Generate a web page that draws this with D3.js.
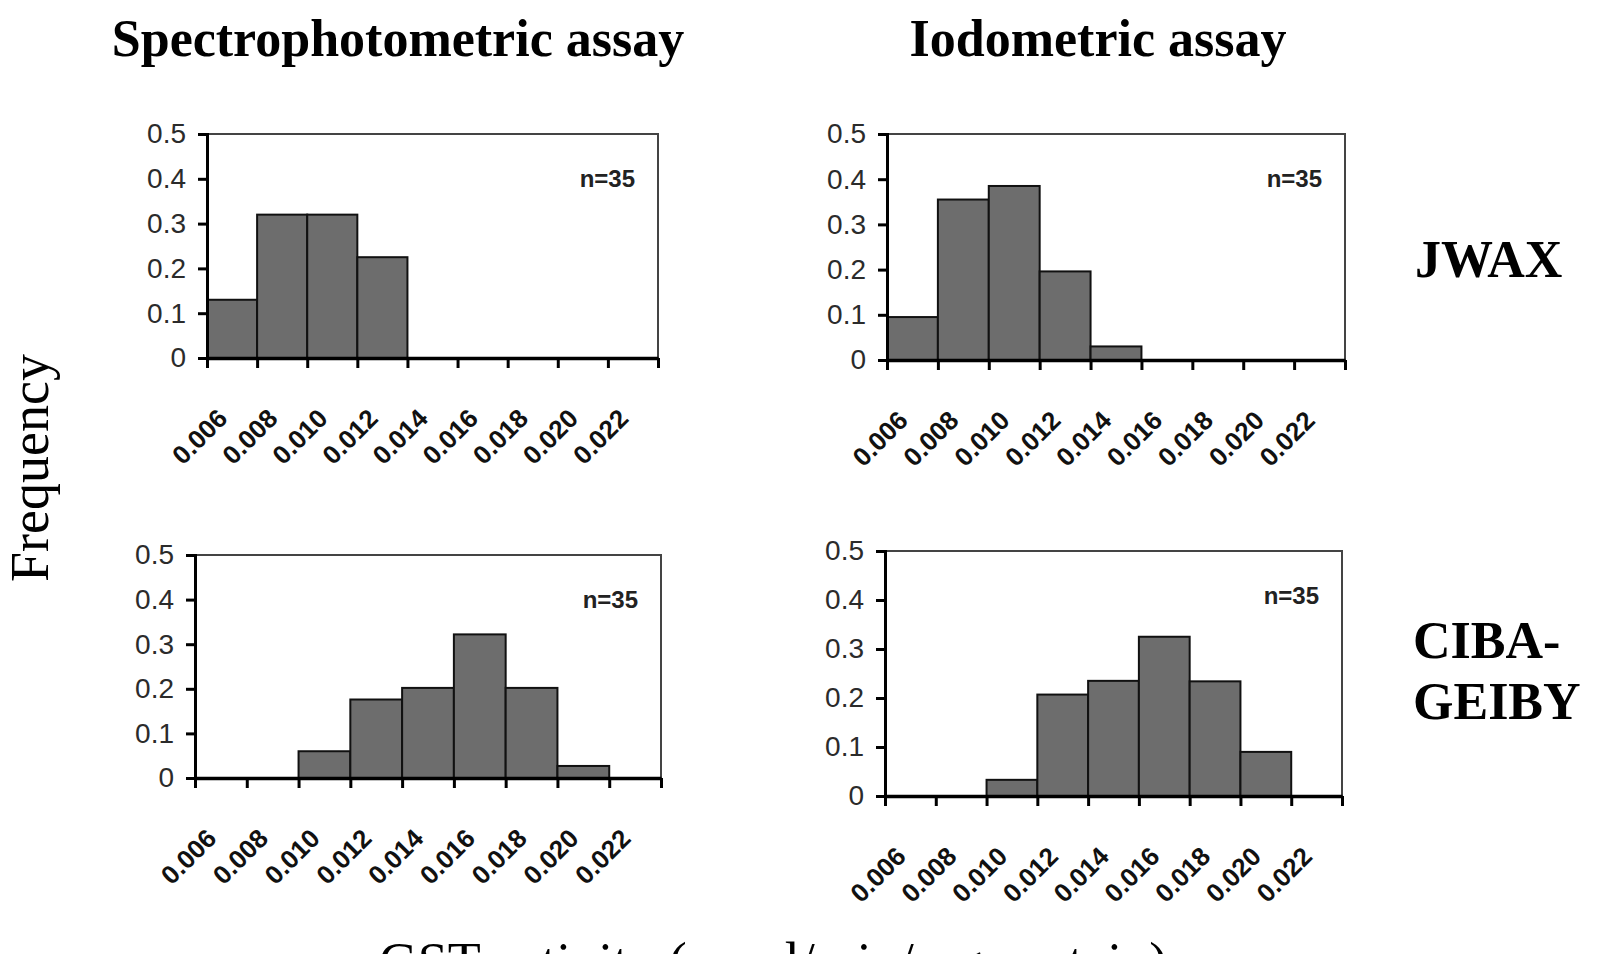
<!DOCTYPE html>
<html>
<head>
<meta charset="utf-8">
<script src="https://cdn.jsdelivr.net/npm/d3@7"></script>
<style>
  body { margin: 0; background: #fff; }
  svg { display: block; }
</style>
</head>
<body>
<script>
// bins of GST activity (category labels on the x axis)
var bins = ["0.006", "0.008", "0.010", "0.012", "0.014", "0.016", "0.018", "0.020", "0.022"];
var yTicks = [0, 0.1, 0.2, 0.3, 0.4, 0.5];

// frequencies
var spectroJWAX = [0.13, 0.32, 0.32, 0.225, 0, 0, 0, 0, 0];
var iodoJWAX    = [0.095, 0.355, 0.385, 0.196, 0.03, 0, 0, 0, 0];
var spectroCIBA = [0, 0, 0.06, 0.176, 0.202, 0.322, 0.202, 0.027, 0];
var iodoCIBA    = [0, 0, 0.033, 0.207, 0.235, 0.325, 0.234, 0.09, 0];

var nLabel = "n=35";

var w = 1600;
var h = 954;

var svg = d3.select("body").append("svg")
    .attr("width", w)
    .attr("height", h);

// one box per panel: left, right, top, bottom (zero line)
var panels = [
  { data: spectroJWAX, left: 207, right: 658, top: 134, bottom: 358 },
  { data: iodoJWAX,    left: 887, right: 1345, top: 134, bottom: 360 },
  { data: spectroCIBA, left: 195, right: 661, top: 555, bottom: 778 },
  { data: iodoCIBA,    left: 885, right: 1342, top: 551, bottom: 796 }
];

panels.forEach(function(p) {
  var g = svg.append("g");

  var x = d3.scaleBand()
      .domain(bins)
      .range([p.left, p.right])
      .padding(0);

  var y = d3.scaleLinear()
      .domain([0, 0.5])
      .range([p.bottom, p.top]);

  // edges of the bins, used for the tick marks
  var edge = d3.scaleLinear()
      .domain([0, bins.length])
      .range([p.left, p.right]);

  // plot area frame (top and right)
  g.append("path")
      .attr("d", "M" + p.left + "," + p.top + "H" + p.right + "V" + p.bottom)
      .attr("fill", "none")
      .attr("stroke", "#444")
      .attr("stroke-width", 2);

  // bars
  g.selectAll("rect")
      .data(p.data.map(function(v, i) { return { bin: bins[i], v: v }; }).filter(function(d) { return d.v > 0; }))
      .enter()
      .append("rect")
      .attr("x", function(d) { return x(d.bin); })
      .attr("y", function(d) { return y(d.v); })
      .attr("width", x.bandwidth())
      .attr("height", function(d) { return y(0) - y(d.v); })
      .attr("fill", "#6d6d6d")
      .attr("stroke", "#111")
      .attr("stroke-width", 2);

  // y axis
  var yAxis = g.append("g")
      .attr("transform", "translate(" + p.left + ",0)")
      .call(d3.axisLeft(y)
        .tickValues(yTicks)
        .tickSize(9)
        .tickPadding(12)
        .tickFormat(function(d) { return d === 0 ? "0" : d.toFixed(1); }));
  yAxis.select(".domain").attr("stroke", "#000").attr("stroke-width", 3);
  yAxis.selectAll(".tick line").attr("stroke", "#000").attr("stroke-width", 3);
  yAxis.selectAll(".tick text")
      .attr("font-family", "Liberation Sans, Arial, sans-serif")
      .attr("font-size", "28px")
      .attr("fill", "#2b2b2b");

  // x axis tick marks at bin edges
  var xEdges = g.append("g")
      .attr("transform", "translate(0," + p.bottom + ")")
      .call(d3.axisBottom(edge)
        .tickValues(d3.range(bins.length + 1))
        .tickSize(10)
        .tickSizeOuter(0)
        .tickFormat(""));
  xEdges.select(".domain").attr("stroke", "#000").attr("stroke-width", 3.5);
  xEdges.selectAll(".tick line").attr("stroke", "#000").attr("stroke-width", 3);

  // rotated bin labels
  g.selectAll(".xlab")
      .data(bins)
      .enter()
      .append("text")
      .attr("class", "xlab")
      .attr("transform", function(d) {
        return "translate(" + (x(d) + x.bandwidth() / 2 - 3) + "," + (p.bottom + 62) + ") rotate(-45)";
      })
      .attr("text-anchor", "end")
      .attr("font-family", "Liberation Sans, Arial, sans-serif")
      .attr("font-weight", "bold")
      .attr("font-size", "26px")
      .attr("fill", "#111")
      .text(function(d) { return d; });

  // sample size
  g.append("text")
      .attr("x", p.right - 23)
      .attr("y", p.top + 53)
      .attr("text-anchor", "end")
      .attr("font-family", "Liberation Sans, Arial, sans-serif")
      .attr("font-weight", "bold")
      .attr("font-size", "24px")
      .attr("fill", "#222")
      .text(nLabel);
});

var serif = "Liberation Serif, Times New Roman, serif";

// column titles
svg.append("text")
    .attr("x", 398).attr("y", 56)
    .attr("text-anchor", "middle")
    .attr("font-family", serif).attr("font-weight", "bold").attr("font-size", "52px")
    .text("Spectrophotometric assay");

svg.append("text")
    .attr("x", 1098).attr("y", 56)
    .attr("text-anchor", "middle")
    .attr("font-family", serif).attr("font-weight", "bold").attr("font-size", "52px")
    .text("Iodometric assay");

// row labels
svg.append("text")
    .attr("x", 1415).attr("y", 277)
    .attr("font-family", serif).attr("font-weight", "bold").attr("font-size", "52px")
    .text("JWAX");

svg.append("text")
    .attr("x", 1413).attr("y", 658)
    .attr("font-family", serif).attr("font-weight", "bold").attr("font-size", "52px")
    .text("CIBA-");

svg.append("text")
    .attr("x", 1413).attr("y", 719)
    .attr("font-family", serif).attr("font-weight", "bold").attr("font-size", "52px")
    .text("GEIBY");

// y axis title
svg.append("text")
    .attr("text-anchor", "middle")
    .attr("transform", "translate(48,468) rotate(-90)")
    .attr("font-family", serif).attr("font-size", "54px")
    .text("Frequency");

// x axis title (partly below the bottom edge, as in the source figure)
svg.append("text")
    .attr("text-anchor", "middle")
    .attr("x", 773).attr("y", 980)
    .attr("font-family", serif).attr("font-size", "54px")
    .text("GST activity (\u03bcmol/min/mg protein)");
</script>
</body>
</html>
